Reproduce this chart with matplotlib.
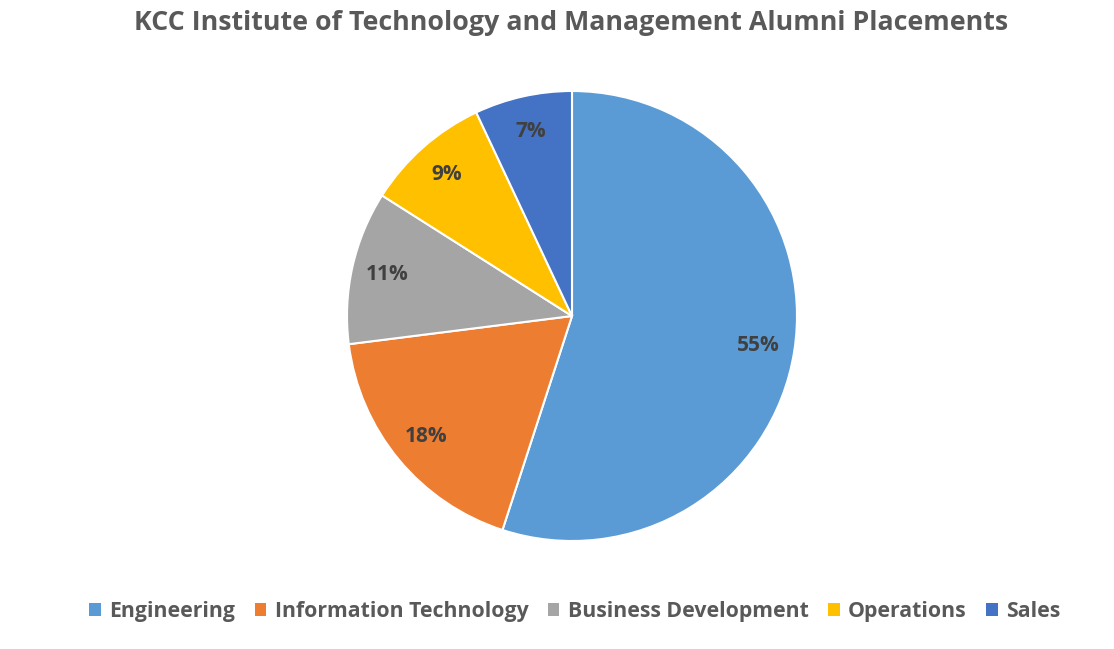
import matplotlib.pyplot as plt
from matplotlib.patches import Patch

plt.rcParams["font.family"] = ["Open Sans", "DejaVu Sans"]

labels = ["Engineering", "Information Technology", "Business Development", "Operations", "Sales"]
shares = [55, 18, 11, 9, 7]
colors = ["#5B9BD5", "#ED7D31", "#A5A5A5", "#FFC000", "#4472C4"]

fig = plt.figure(figsize=(11.14, 6.49), dpi=100)
fig.patch.set_facecolor("white")

ax = fig.add_axes([(572 - 225) / 1114, (649 - 541) / 649, 450 / 1114, 450 / 649])
wedges, texts, autotexts = ax.pie(
    shares, colors=colors, startangle=90, counterclock=False,
    autopct="%d%%", pctdistance=0.84,
    wedgeprops=dict(edgecolor="white", linewidth=1.5),
)
for t in autotexts:
    t.set_fontsize(15)
    t.set_fontweight("bold")
    t.set_color("#404040")
ax.set_xlim(-1, 1)
ax.set_ylim(-1, 1)
ax.set_aspect("equal")

fig.text(0.513, 0.965, "KCC Institute of Technology and Management Alumni Placements",
         ha="center", va="center", fontsize=19.3, fontweight="bold", color="#595959")

handles = [Patch(facecolor=c, edgecolor="none") for c in colors]
leg = fig.legend(handles, labels, loc="center", bbox_to_anchor=(0.516, 0.058), ncol=5,
                 frameon=False, handlelength=0.55, handleheight=0.55, handletextpad=0.4,
                 columnspacing=0.9, prop=dict(size=15.3, weight="bold"))
for t in leg.get_texts():
    t.set_color("#595959")

fig.savefig("out.png", dpi=100)
